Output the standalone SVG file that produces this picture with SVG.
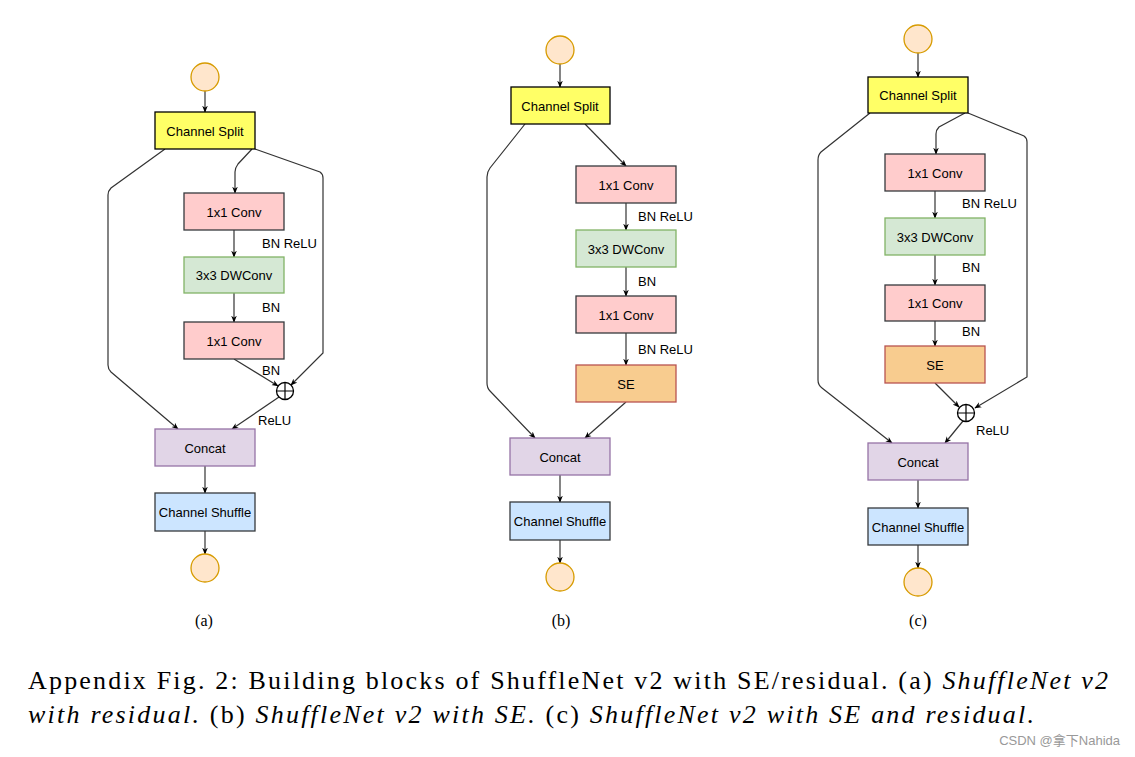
<svg xmlns="http://www.w3.org/2000/svg" width="1135" height="757" viewBox="0 0 1135 757">
<style>
.t{font-family:"Liberation Sans",Arial,sans-serif;font-size:13px;fill:#000;text-anchor:middle;dominant-baseline:central}
.l{font-family:"Liberation Sans",Arial,sans-serif;font-size:13px;fill:#000}
.cap{font-family:"Liberation Serif","Times New Roman",serif;font-size:16px;text-anchor:middle}
.fig{font-family:"Liberation Serif","Times New Roman",serif;font-size:26px}
.io{fill:#ffe6cc;stroke:#d79b00;stroke-width:1.3}
.split{fill:#ffff66;stroke:#000;stroke-width:1.3}
.conv{fill:#ffcccc;stroke:#36393d;stroke-width:1.3}
.dw{fill:#d5e8d4;stroke:#82b366;stroke-width:1.3}
.se{fill:#f8cc8f;stroke:#b85450;stroke-width:1.3}
.cat{fill:#e1d5e7;stroke:#9673a6;stroke-width:1.3}
.shuf{fill:#cce5ff;stroke:#36393d;stroke-width:1.3}
.plus{fill:#fff;stroke:#000;stroke-width:1.3}
#conn path{fill:none;stroke:#333;stroke-width:1.2;marker-end:url(#a)}
</style>
<defs><marker id="a" viewBox="0 0 10 10" refX="9" refY="5" markerWidth="7" markerHeight="7" orient="auto" markerUnits="userSpaceOnUse"><path d="M0,1 L10,5 L0,9 L3,5 Z" fill="#000"/></marker></defs>
<rect width="1135" height="757" fill="#fff"/>
<g id="conn">
<path d="M205,91 V112"/>
<path d="M165,149 L111,188 Q108,191 108,195 V365 Q108,369 111,372 L178,429"/>
<path d="M255,149 L320,172 Q323,174 323,178 V353 L291,385"/>
<path d="M252,149 L238,164 Q235,168 235,172 V193"/>
<path d="M234,230 V257"/><path d="M234,293 V322"/>
<path d="M234,359 L278,386"/>
<path d="M279,397 L232,429"/>
<path d="M205,466 V493"/><path d="M205,531 V554"/>
<path d="M560,64 V87"/>
<path d="M525,124 L490,168 Q487,172 487,177 V383 Q487,388 490,391 L535,438"/>
<path d="M585,124 L626,166"/>
<path d="M626,203 V230"/><path d="M626,267 V296"/><path d="M626,333 V365"/>
<path d="M626,402 L585,438"/>
<path d="M560,475 V502"/><path d="M560,540 V563"/>
<path d="M918,53 V77"/>
<path d="M870,113 L821,152 Q818,155 818,160 V380 Q818,385 822,388 L892,443"/>
<path d="M968,113 L1024,136 Q1027,138 1027,142 V377 L975,408"/>
<path d="M965,113 L939,127 Q936,130 936,134 V154"/>
<path d="M935,191 V218"/><path d="M935,255 V285"/><path d="M935,321 V346"/>
<path d="M935,383 L959,407"/>
<path d="M963,421 L945,443"/>
<path d="M918,480 V508"/><path d="M918,545 V568"/>
</g>
<g id="a-nodes">
<g id="a-in"><circle class="io" cx="205" cy="77" r="14"/></g>
<g id="a-split"><rect class="split" x="155" y="112" width="100" height="37"/><text class="t" x="205" y="131">Channel Split</text></g>
<g id="a-conv1"><rect class="conv" x="184" y="193" width="100" height="37"/><text class="t" x="234" y="212">1x1 Conv</text></g>
<g id="a-dw"><rect class="dw" x="184" y="257" width="100" height="36"/><text class="t" x="234" y="275">3x3 DWConv</text></g>
<g id="a-conv2"><rect class="conv" x="184" y="322" width="100" height="37"/><text class="t" x="234" y="341">1x1 Conv</text></g>
<g id="a-plus"><circle class="plus" cx="285" cy="391" r="8.5"/><path d="M276.5,391 H293.5 M285,382.5 V399.5" stroke="#000" stroke-width="1.2"/></g>
<g id="a-cat"><rect class="cat" x="155" y="429" width="100" height="37"/><text class="t" x="205" y="448">Concat</text></g>
<g id="a-shuf"><rect class="shuf" x="155" y="493" width="100" height="38"/><text class="t" x="205" y="512">Channel Shuffle</text></g>
<g id="a-out"><circle class="io" cx="205" cy="568" r="14"/></g>
<text class="l" x="262" y="248">BN ReLU</text>
<text class="l" x="262" y="312">BN</text>
<text class="l" x="262" y="375">BN</text>
<text class="l" x="258" y="425">ReLU</text>
</g>
<g id="b-nodes">
<g id="b-in"><circle class="io" cx="560" cy="50" r="14"/></g>
<g id="b-split"><rect class="split" x="511" y="87" width="99" height="37"/><text class="t" x="560" y="106">Channel Split</text></g>
<g id="b-conv1"><rect class="conv" x="576" y="166" width="100" height="37"/><text class="t" x="626" y="185">1x1 Conv</text></g>
<g id="b-dw"><rect class="dw" x="576" y="230" width="100" height="37"/><text class="t" x="626" y="249">3x3 DWConv</text></g>
<g id="b-conv2"><rect class="conv" x="576" y="296" width="100" height="37"/><text class="t" x="626" y="315">1x1 Conv</text></g>
<g id="b-se"><rect class="se" x="576" y="365" width="100" height="37"/><text class="t" x="626" y="384">SE</text></g>
<g id="b-cat"><rect class="cat" x="510" y="438" width="100" height="37"/><text class="t" x="560" y="457">Concat</text></g>
<g id="b-shuf"><rect class="shuf" x="510" y="502" width="100" height="38"/><text class="t" x="560" y="521">Channel Shuffle</text></g>
<g id="b-out"><circle class="io" cx="560" cy="577" r="14"/></g>
<text class="l" x="638" y="221">BN ReLU</text>
<text class="l" x="638" y="286">BN</text>
<text class="l" x="638" y="354">BN ReLU</text>
</g>
<g id="c-nodes">
<g id="c-in"><circle class="io" cx="918" cy="39" r="14"/></g>
<g id="c-split"><rect class="split" x="868" y="77" width="100" height="36"/><text class="t" x="918" y="95">Channel Split</text></g>
<g id="c-conv1"><rect class="conv" x="885" y="154" width="100" height="37"/><text class="t" x="935" y="173">1x1 Conv</text></g>
<g id="c-dw"><rect class="dw" x="885" y="218" width="100" height="37"/><text class="t" x="935" y="237">3x3 DWConv</text></g>
<g id="c-conv2"><rect class="conv" x="885" y="285" width="100" height="36"/><text class="t" x="935" y="303">1x1 Conv</text></g>
<g id="c-se"><rect class="se" x="885" y="346" width="100" height="37"/><text class="t" x="935" y="365">SE</text></g>
<g id="c-plus"><circle class="plus" cx="966" cy="413" r="8.5"/><path d="M957.5,413 H974.5 M966,404.5 V421.5" stroke="#000" stroke-width="1.2"/></g>
<g id="c-cat"><rect class="cat" x="868" y="443" width="100" height="37"/><text class="t" x="918" y="462">Concat</text></g>
<g id="c-shuf"><rect class="shuf" x="868" y="508" width="100" height="37"/><text class="t" x="918" y="527">Channel Shuffle</text></g>
<g id="c-out"><circle class="io" cx="918" cy="582" r="14"/></g>
<text class="l" x="962" y="208">BN ReLU</text>
<text class="l" x="962" y="272">BN</text>
<text class="l" x="962" y="336">BN</text>
<text class="l" x="976" y="435">ReLU</text>
</g>
<text class="cap" x="204" y="626">(a)</text>
<text class="cap" x="561" y="626">(b)</text>
<text class="cap" x="918" y="626">(c)</text>
<text class="fig" x="28" y="689" textLength="1080" lengthAdjust="spacing">Appendix Fig. 2: Building blocks of ShuffleNet v2 with SE/residual. (a) <tspan font-style="italic">ShuffleNet v2</tspan></text>
<text class="fig" x="28" y="723" textLength="1006" lengthAdjust="spacing"><tspan font-style="italic">with residual.</tspan> (b) <tspan font-style="italic">ShuffleNet v2 with SE.</tspan> (c) <tspan font-style="italic">ShuffleNet v2 with SE and residual.</tspan></text>
<text x="1120" y="745" text-anchor="end" font-family="'Liberation Sans','Noto Sans CJK SC',sans-serif" font-size="13" fill="#999">CSDN @拿下Nahida</text>
</svg>
